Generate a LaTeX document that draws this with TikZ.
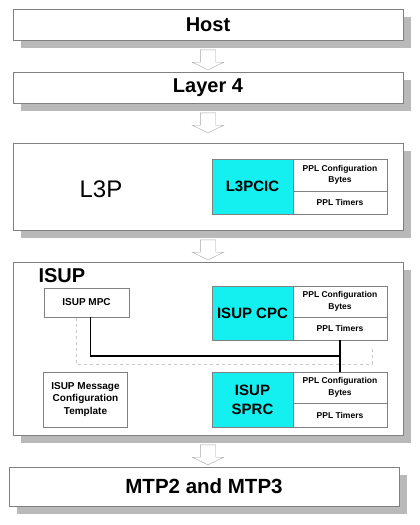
\documentclass[tikz,border=0pt]{standalone}
\usepackage{fontspec}
\setmainfont{Liberation Sans}
\usetikzlibrary{shapes.arrows,shadows}
\definecolor{boxline}{RGB}{128,128,128}
\definecolor{shadowgray}{RGB}{185,185,185}
\definecolor{ciccyan}{RGB}{20,240,240}
\definecolor{busgray}{RGB}{200,200,200}
\tikzset{
  layerbox/.style={draw=boxline, fill=white, minimum width=390pt, inner sep=0pt,
    drop shadow={shadow xshift=8pt, shadow yshift=-8pt, fill=shadowgray, opacity=1}},
  downarrow/.style={single arrow, draw=boxline!70, fill=white, shape border rotate=270,
    minimum height=20pt, minimum width=31pt, inner sep=7.5pt,
    single arrow head extend=8pt, single arrow tip angle=128},
  cicbox/.style={draw=boxline, fill=ciccyan, minimum width=81pt, inner sep=0pt,
    align=center, font=\fontsize{15}{19}\selectfont\bfseries},
  pplcell/.style={draw=boxline, fill=white, minimum width=94pt, inner sep=0pt,
    align=center, font=\fontsize{8.5}{11.5}\selectfont\bfseries},
  subbox/.style={draw=boxline, fill=white, inner sep=0pt,
    align=center, font=\fontsize{10}{12.5}\selectfont\bfseries}
}
\begin{document}
\begin{tikzpicture}[x=1pt, y=-1pt]
  \useasboundingbox (0,0) rectangle (420,525);

  % Arrows between layers
  \node[downarrow] (arr1) at (208,58) {};
  \node[downarrow] (arr2) at (208,121) {};
  \node[downarrow] (arr3) at (208,248) {};
  \node[downarrow] (arr4) at (208,453) {};

  % Layers
  \node[layerbox, minimum height=31pt, font=\fontsize{20}{24}\selectfont\bfseries] (host) at (208,24.5) {Host};
  \node[layerbox, minimum height=31pt, font=\fontsize{20}{24}\selectfont\bfseries] (layer4) at (208,87.5) {Layer 4};
  \node[layerbox, minimum height=87pt] (l3p) at (208,186.5) {};
  \node[layerbox, minimum height=173pt] (isup) at (208,348.5) {};
  \node[layerbox, minimum height=39pt, font=\fontsize{20.5}{24}\selectfont\bfseries] (mtp) at (204,486.5) {MTP2 and MTP3};

  % L3P contents
  \node[font=\fontsize{24}{28}\selectfont] (l3plabel) at (101,189) {L3P};
  \node[cicbox, minimum height=55pt] (l3pcic) at (252.5,186.5) {L3PCIC};
  \node[pplcell, minimum height=32pt] (l3pbyt) at (340,175) {PPL Configuration\\Bytes};
  \node[pplcell, minimum height=23pt] (l3ptim) at (340,202.5) {PPL Timers};

  % ISUP contents
  \node[anchor=west, font=\fontsize{20}{24}\selectfont\bfseries] (isuplabel) at (35,276) {ISUP};
  \draw[busgray, dashed, line width=0.8pt] (76,318) -- (76,364) -- (372,364) -- (372,347);
  \node[subbox, minimum width=85pt, minimum height=29pt] (mpc) at (86.5,302.5) {ISUP MPC};
  \node[subbox, minimum width=84pt, minimum height=55pt] (template) at (85.5,399.5) {ISUP Message\\Configuration\\Template};
  \node[cicbox, minimum height=54pt] (cpc) at (252.5,313) {ISUP CPC};
  \node[pplcell, minimum height=31pt] (cpcbyt) at (340,301.5) {PPL Configuration\\Bytes};
  \node[pplcell, minimum height=23pt] (cpctim) at (340,328.5) {PPL Timers};
  \node[cicbox, minimum height=55pt] (sprc) at (252.5,399.5) {ISUP\\SPRC};
  \node[pplcell, minimum height=31pt] (sprcbyt) at (340,387.5) {PPL Configuration\\Bytes};
  \node[pplcell, minimum height=24pt] (sprctim) at (340,415) {PPL Timers};

  % Connections
  \coordinate (bus) at (340,356);
  \draw[line width=1.3pt] ([xshift=4pt]mpc.south) |- (bus);
  \draw[line width=1.3pt] (cpctim.south) -- (sprcbyt.north);
\end{tikzpicture}
\end{document}
